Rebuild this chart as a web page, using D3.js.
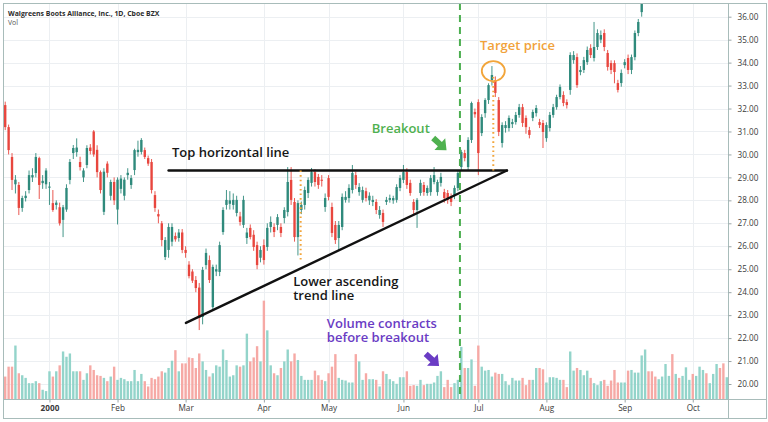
<!DOCTYPE html>
<html>
<head>
<meta charset="utf-8">
<script src="https://cdn.jsdelivr.net/npm/d3@7"></script>
<style>
  body { margin: 0; background: #fff; }
  svg { display: block; font-family: "Open Sans", sans-serif; }
</style>
</head>
<body>
<svg id="chart" width="768" height="422"></svg>
<script>
// Daily candles (Dec .. Oct), one entry per trading day
const opens = [
  32.15,31.19,29.89,28.70,28.67,27.67,28.10,28.45,29.00,29.19,
  29.84,28.75,28.70,28.55,27.88,27.80,27.70,27.15,27.60,28.89,
  30.06,30.10,29.67,29.00,29.54,30.30,31.00,30.20,29.23,27.50,
  29.60,28.20,28.80,27.60,28.50,28.20,29.10,28.67,29.32,30.10,
  30.11,30.19,29.84,29.67,28.23,27.40,27.00,25.53,25.84,26.20,
  26.45,26.36,26.60,25.84,25.20,24.90,24.53,24.20,22.92,25.18,
  25.40,23.35,24.90,24.88,26.62,27.80,27.85,27.80,27.45,27.30,
  26.93,26.36,26.80,26.50,26.05,25.50,26.05,25.97,26.84,26.84,
  26.93,26.84,27.23,27.49,28.89,27.93,26.40,27.58,27.80,28.32,
  28.76,29.23,29.02,28.90,27.71,28.97,27.71,26.93,26.36,26.84,
  28.02,28.10,28.45,29.10,28.36,28.02,28.40,28.00,27.93,27.93,
  27.36,27.45,27.93,28.02,28.00,28.02,28.54,28.89,29.23,28.76,
  27.93,27.58,28.32,28.67,28.32,28.36,28.80,28.36,28.76,28.36,
  28.32,28.15,28.23,28.54,29.45,30.06,29.45,30.63,31.85,32.28,
  30.93,31.80,32.37,33.24,33.24,32.37,30.50,31.15,31.15,31.32,
  31.41,31.72,32.06,31.59,31.06,31.59,31.80,31.41,31.37,30.71,
  31.15,31.72,32.06,32.50,32.59,32.28,32.81,34.11,34.24,33.59,
  33.68,34.02,34.63,34.20,34.68,35.00,35.29,34.42,33.98,33.98,
  33.11,33.11,33.89,34.20,33.68,34.24,35.29,36.20,36.80,37.60,
  37.30,37.10,36.90,37.30,37.60,38.20,38.50,37.80,38.20,37.90,
  38.20,38.60,38.90,38.50,38.80,39.30,39.70,39.30,39.50,39.80,
  40.40,40.00,39.60
];
const highs = [
  32.30,31.30,30.06,29.10,28.80,28.20,28.40,29.30,29.40,30.06,
  29.90,29.10,29.40,28.80,28.45,28.00,27.90,27.80,28.70,29.80,
  30.41,30.70,29.90,29.40,30.40,30.45,31.06,30.40,29.30,29.40,
  29.70,28.90,29.00,29.00,29.10,29.00,29.40,29.10,30.25,30.60,
  30.71,30.30,29.95,29.80,28.40,27.60,27.10,26.40,27.00,27.00,
  26.60,26.75,26.75,26.00,25.35,25.00,24.70,24.40,25.10,25.90,
  25.60,25.20,25.20,26.20,27.70,28.45,28.40,28.30,28.20,27.50,
  28.20,26.80,26.95,26.70,26.20,26.00,26.30,27.00,27.30,27.00,
  27.40,27.00,27.70,29.45,29.45,28.10,28.00,27.95,28.60,29.00,
  29.41,29.35,29.15,29.10,28.30,29.10,27.90,27.10,27.10,28.30,
  28.40,28.70,29.54,29.25,28.75,28.60,28.55,28.35,28.20,28.05,
  27.75,27.60,28.15,28.25,28.20,28.70,29.10,29.54,29.40,28.90,
  28.05,28.10,28.90,28.80,28.65,29.10,29.45,28.90,29.20,28.50,
  28.45,28.30,28.65,29.30,30.20,30.20,30.75,32.30,32.00,32.40,
  31.75,32.45,33.10,33.85,33.40,32.50,31.40,31.45,31.70,31.55,
  31.85,32.20,32.20,31.70,31.20,31.95,32.15,31.55,31.50,31.40,
  31.85,32.20,32.60,33.05,32.75,32.40,34.45,34.50,34.40,33.85,
  34.25,34.70,34.80,35.77,35.45,35.40,35.45,34.55,34.10,34.10,
  33.25,33.70,34.15,34.35,34.35,35.40,35.90,37.00,37.70,37.80,
  37.45,37.25,37.45,37.75,38.35,38.55,38.65,38.25,38.35,38.35,
  38.75,38.95,39.05,38.95,39.45,39.75,39.85,39.65,39.95,40.45,
  40.55,40.15,40.05
];
const lows = [
  31.06,30.00,28.45,28.30,27.36,27.50,27.95,28.30,28.80,29.00,
  28.06,28.50,28.50,27.80,27.50,27.60,26.90,26.40,27.50,28.70,
  29.80,29.90,29.30,28.80,29.40,30.00,29.90,29.00,28.30,27.36,
  29.00,28.00,27.80,26.95,28.30,28.00,28.90,28.50,29.10,29.90,
  30.00,29.80,29.50,28.30,27.50,27.00,26.00,25.40,25.50,26.00,
  26.20,26.20,25.70,25.50,24.60,24.40,24.00,22.35,22.60,25.00,
  24.40,23.20,24.70,24.70,26.50,27.60,27.60,27.60,27.30,26.90,
  26.80,26.10,26.30,25.80,25.00,25.30,25.20,25.80,26.60,26.40,
  26.70,26.40,27.00,27.30,27.80,26.20,25.60,27.40,27.60,28.10,
  28.60,28.60,28.50,28.60,27.50,28.00,26.40,26.10,25.84,26.70,
  27.90,27.90,28.30,28.50,28.20,27.90,27.95,27.80,27.75,27.40,
  27.20,26.84,27.80,27.90,27.85,27.90,28.40,28.75,28.50,28.20,
  27.40,26.80,28.20,28.20,28.20,28.20,28.70,28.20,28.60,27.90,
  27.85,27.75,28.05,28.40,29.30,29.70,29.30,30.50,31.60,29.10,
  30.80,31.60,32.20,33.00,32.50,30.80,30.30,30.95,31.00,31.15,
  31.30,31.60,31.20,30.90,30.70,31.45,31.65,31.15,30.28,30.55,
  31.00,31.60,31.95,32.40,32.10,32.00,32.60,33.95,32.90,33.45,
  33.55,33.90,34.20,34.05,34.55,34.85,34.50,33.65,33.50,33.10,
  32.70,32.95,33.75,33.50,33.50,34.10,35.15,36.00,36.70,37.00,
  36.85,36.75,36.80,37.15,37.50,38.05,37.65,37.65,37.75,37.80,
  38.05,38.45,38.35,38.40,38.70,39.15,39.15,39.20,39.40,39.65,
  39.85,39.45,39.45
];
const closes = [
  31.19,30.19,28.89,28.90,27.67,28.10,28.20,29.10,29.10,29.89,
  28.67,28.85,29.30,28.60,27.58,27.90,27.00,27.70,28.54,29.67,
  30.28,30.30,29.45,29.30,30.28,30.15,30.00,29.23,28.45,29.25,
  29.20,28.80,28.00,28.90,28.95,28.90,29.20,28.97,30.19,30.20,
  30.63,29.89,29.60,28.45,27.67,27.30,26.27,26.27,26.84,26.84,
  26.30,26.60,25.84,25.71,24.70,24.50,24.18,22.88,24.97,25.71,
  24.53,25.10,25.00,26.05,27.58,28.02,28.00,28.02,28.02,27.06,
  28.02,26.60,26.40,25.97,25.18,25.84,25.40,26.80,27.06,26.62,
  27.27,26.58,27.58,28.80,28.02,26.40,27.88,27.80,28.45,28.89,
  29.23,28.80,28.67,28.85,28.10,28.15,26.58,26.27,26.93,28.15,
  28.15,28.54,29.19,28.67,28.58,28.45,28.10,28.20,28.02,27.58,
  27.58,27.06,28.02,28.10,28.10,28.58,28.97,29.23,28.67,28.32,
  27.58,28.02,28.76,28.36,28.54,28.97,29.10,28.80,29.02,28.10,
  28.02,27.93,28.54,29.19,30.11,29.84,30.63,32.24,31.75,30.06,
  31.63,32.37,33.02,33.46,32.68,30.98,31.28,31.28,31.59,31.41,
  31.72,32.06,31.37,31.19,30.85,31.85,32.02,31.28,30.98,31.28,
  31.72,32.06,32.50,32.94,32.24,32.15,34.33,34.33,33.02,33.68,
  34.11,34.55,34.33,34.68,35.29,35.20,34.68,33.81,33.68,33.59,
  32.81,33.55,34.02,33.68,34.24,35.29,35.77,36.80,37.50,37.20,
  37.00,36.90,37.30,37.60,38.20,38.40,37.80,38.10,37.90,38.20,
  38.60,38.80,38.50,38.80,39.30,39.60,39.30,39.50,39.80,40.30,
  40.00,39.60,39.90
];
// volume, millions of shares
const volumes = [
  3.4,4.9,4.9,8.1,3.9,3.6,3.2,2.4,2.4,2.7,
  2.4,1.4,1.2,4.2,3.4,4.2,5.1,7.2,6.4,6.9,
  4.2,4.2,4.2,2.9,3.9,5.1,4.4,3.6,3.5,3.2,
  2.7,3.4,4.9,2.9,3.2,3.0,2.7,2.7,4.4,2.7,
  3.8,2.7,1.9,3.2,3.0,3.4,4.2,4.0,4.7,5.8,
  7.4,4.2,5.4,5.4,6.3,6.2,4.7,6.9,5.7,4.4,
  3.4,3.9,5.1,4.9,7.5,5.9,3.4,3.6,5.1,4.9,
  5.1,9.9,5.7,6.3,8.0,5.7,14.9,10.4,5.1,3.9,
  3.6,4.7,5.7,7.5,5.7,6.9,5.9,3.5,2.9,2.9,
  2.9,4.3,3.6,2.9,2.7,3.9,4.9,6.8,3.2,2.9,
  2.8,2.5,2.5,6.8,5.7,2.9,3.9,3.0,3.0,2.9,
  1.9,4.2,3.8,3.0,2.7,2.3,3.3,3.3,4.2,2.0,
  2.1,2.0,2.9,2.1,2.3,2.3,2.5,3.5,4.2,1.8,
  2.9,1.8,2.4,2.9,7.9,4.7,4.7,6.0,2.0,8.1,
  4.9,4.3,4.4,3.4,4.0,3.8,3.8,2.7,2.1,3.2,
  2.8,2.8,3.2,2.1,2.9,2.9,4.7,4.7,4.5,2.5,
  3.3,3.3,3.2,2.9,2.9,1.8,7.2,4.3,4.7,4.4,
  3.6,4.3,3.2,2.4,2.1,2.7,2.9,2.0,2.8,4.4,
  2.5,2.5,2.5,4.3,4.4,4.0,4.0,6.6,7.5,4.2,
  4.2,3.4,3.0,3.4,5.3,3.5,6.8,3.8,3.2,3.5,
  4.8,2.9,3.8,3.5,4.9,4.4,3.9,2.4,3.8,5.3,
  4.7,5.4,3.3
];

// time axis: candle index of each month start
const monthTicks = [13, 33, 53, 76, 95, 117, 139, 159, 182, 202];
const monthLabels = ["2000", "Feb", "Mar", "Apr", "May", "Jun", "Jul", "Aug", "Sep", "Oct"];
const priceTicks = d3.range(20, 37);

// pattern annotations, in (candle index, price)
const guideLines = [
  { from: [48, 29.3], to: [147.4, 29.3] },      // top horizontal line
  { from: [53.1, 22.66], to: [147.4, 29.3] }    // lower ascending trend line
];
const heightMarks = [
  { i: 86.8, from: 29.3, to: 25.3 },
  { i: 143.4, from: 29.3, to: 33.5 }
];
const breakoutIndex = 133.6;
const targetPoint = { i: 143.4, price: 33.63 };
// one entry per text line
const notes = [
  { text: "Top horizontal line", i: 49, price: 29.87, color: "#161616" },
  { text: "Breakout", i: 107.7, price: 30.95, color: "#4fb14f" },
  { text: "Target price", i: 139.5, price: 34.57, color: "#f1a23a" },
  { text: "Lower ascending", i: 84.6, price: 24.25, color: "#161616" },
  { text: "trend line", i: 84.6, price: 23.64, color: "#161616" },
  { text: "Volume contracts", i: 94.5, price: 22.44, color: "#6a3cc4" },
  { text: "before breakout", i: 94.5, price: 21.83, color: "#6a3cc4" }
];
const noteArrows = [
  { i: 127.7, price: 30.45, color: "#4fb14f" },
  { i: 125.5, price: 21.05, color: "#6a3cc4" }
];

const upColor = "#2f8a7c", downColor = "#e8463e";
const upVol = "#93d4ca", downVol = "#f6a9a5";
const frameColor = "#a8bcba", gridColor = "#eceff2";

const plot = { left: 3, top: 3, right: 728, bottom: 399, outerRight: 766, outerBottom: 418 };
const svg = d3.select("#chart");
const idx = d3.range(opens.length);

const x = d3.scaleBand().domain(idx).range([plot.left, plot.right + 1]).padding(0.3);
const half = x.bandwidth() / 2;
const xAt = d3.scaleLinear()
  .domain([0, idx.length - 1])
  .range([x(0) + half, x(idx.length - 1) + half]);
const y = d3.scaleLinear().domain([20, 36]).range([384, 16.7]);
const yVol = d3.scaleLinear().domain([0, 15]).range([plot.bottom, 300]);

svg.append("defs").append("clipPath").attr("id", "pane")
  .append("rect")
  .attr("x", plot.left).attr("y", plot.top)
  .attr("width", plot.right - plot.left).attr("height", plot.bottom - plot.top);

// --- grid ---
const grid = svg.append("g");
grid.selectAll(".hg").data(priceTicks).enter().append("line")
  .attr("x1", plot.left).attr("x2", plot.right)
  .attr("y1", d => Math.round(y(d)) + 0.5).attr("y2", d => Math.round(y(d)) + 0.5)
  .attr("stroke", gridColor);
grid.selectAll(".vg").data(monthTicks).enter().append("line")
  .attr("x1", d => Math.round(xAt(d)) + 0.5).attr("x2", d => Math.round(xAt(d)) + 0.5)
  .attr("y1", plot.top).attr("y2", plot.bottom)
  .attr("stroke", gridColor);

const pane = svg.append("g").attr("clip-path", "url(#pane)");

// --- volume ---
pane.append("g").selectAll("rect").data(idx).enter().append("rect")
  .attr("x", i => x(i))
  .attr("width", x.bandwidth())
  .attr("y", i => yVol(volumes[i]))
  .attr("height", i => yVol(0) - yVol(volumes[i]))
  .attr("fill", i => closes[i] >= opens[i] ? upVol : downVol);

// --- candles ---
const candle = pane.append("g").selectAll("g").data(idx).enter().append("g");
candle.append("line")
  .attr("x1", i => x(i) + half).attr("x2", i => x(i) + half)
  .attr("y1", i => y(highs[i])).attr("y2", i => y(lows[i]))
  .attr("stroke", i => closes[i] >= opens[i] ? upColor : downColor)
  .attr("stroke-width", 0.9);
candle.append("rect")
  .attr("x", i => x(i))
  .attr("width", x.bandwidth())
  .attr("y", i => y(Math.max(opens[i], closes[i])))
  .attr("height", i => Math.max(1, Math.abs(y(opens[i]) - y(closes[i]))))
  .attr("fill", i => closes[i] >= opens[i] ? upColor : downColor);

// --- annotations ---
const notesG = svg.append("g");

notesG.append("line")
  .attr("x1", xAt(breakoutIndex)).attr("x2", xAt(breakoutIndex))
  .attr("y1", plot.top).attr("y2", plot.bottom)
  .attr("stroke", "#4caf50").attr("stroke-width", 2)
  .attr("stroke-dasharray", "7,5");

notesG.selectAll(".guide").data(guideLines).enter().append("line")
  .attr("x1", d => xAt(d.from[0])).attr("y1", d => y(d.from[1]))
  .attr("x2", d => xAt(d.to[0])).attr("y2", d => y(d.to[1]))
  .attr("stroke", "#111").attr("stroke-width", 2.4)
  .attr("stroke-linecap", "round");

notesG.selectAll(".hmark").data(heightMarks).enter().append("line")
  .attr("x1", d => xAt(d.i)).attr("x2", d => xAt(d.i))
  .attr("y1", d => y(d.from)).attr("y2", d => y(d.to))
  .attr("stroke", "#f2a53a").attr("stroke-width", 2)
  .attr("stroke-dasharray", "1.6,3");

notesG.append("ellipse")
  .attr("cx", xAt(targetPoint.i)).attr("cy", y(targetPoint.price))
  .attr("rx", 11.5).attr("ry", 10)
  .attr("fill", "none").attr("stroke", "#f2a53a").attr("stroke-width", 1.8);

notesG.selectAll(".note").data(notes).enter().append("text")
  .attr("x", d => xAt(d.i)).attr("y", d => y(d.price))
  .attr("fill", d => d.color)
  .attr("font-size", 13).attr("font-weight", 600)
  .text(d => d.text);

// chunky arrow pointing down-right
const arrowShape = "M-9,-3L0,-3L0,-8L9,0L0,8L0,3L-9,3Z";
notesG.selectAll(".arrow").data(noteArrows).enter().append("path")
  .attr("d", arrowShape)
  .attr("transform", d => `translate(${xAt(d.i)},${y(d.price)}) rotate(42)`)
  .attr("fill", d => d.color);

// --- frame and axes ---
const frame = svg.append("g").attr("fill", "none").attr("stroke", frameColor);
frame.append("rect")
  .attr("x", plot.left + 0.5).attr("y", plot.top + 0.5)
  .attr("width", plot.outerRight - plot.left).attr("height", plot.outerBottom - plot.top);
frame.append("line")
  .attr("x1", plot.right + 0.5).attr("x2", plot.right + 0.5)
  .attr("y1", plot.top).attr("y2", plot.outerBottom);
frame.append("line")
  .attr("x1", plot.left).attr("x2", plot.outerRight)
  .attr("y1", plot.bottom + 0.5).attr("y2", plot.bottom + 0.5);

const yAxis = svg.append("g")
  .attr("transform", `translate(${plot.right + 0.5},0)`)
  .call(d3.axisRight(y).tickValues(priceTicks).tickFormat(d3.format(".2f")).tickSize(3).tickPadding(6));
yAxis.select(".domain").remove();
yAxis.selectAll("line").attr("stroke", "#9aa6a8");
yAxis.selectAll("text").attr("font-size", 8.2).attr("fill", "#3a3a3a")
  .attr("font-family", "'Open Sans', sans-serif");

const xAxis = svg.append("g")
  .attr("transform", `translate(0,${plot.bottom + 0.5})`)
  .call(d3.axisBottom(xAt).tickValues(monthTicks).tickFormat((d, k) => monthLabels[k]).tickSize(3).tickPadding(3));
xAxis.select(".domain").remove();
xAxis.selectAll("line").attr("stroke", "#9aa6a8");
xAxis.selectAll("text").attr("font-size", 8.2).attr("fill", "#3a3a3a")
  .attr("font-family", "'Open Sans', sans-serif")
  .attr("font-weight", (d, k) => k === 0 ? 700 : 400);

// --- header ---
svg.append("text").attr("x", 8).attr("y", 16)
  .attr("font-size", 6.9).attr("font-weight", 700).attr("fill", "#2b2b2b")
  .text("Walgreens Boots Alliance, Inc., 1D, Cboe BZX");
svg.append("text").attr("x", 8).attr("y", 25)
  .attr("font-size", 6.9).attr("fill", "#555")
  .text("Vol");
</script>
</body>
</html>
